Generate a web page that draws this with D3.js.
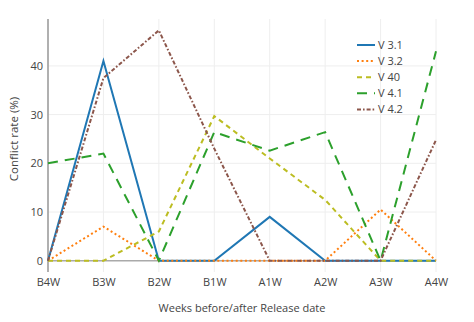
<!DOCTYPE html>
<html><head><meta charset="utf-8">
<script src="https://cdn.jsdelivr.net/npm/d3@7"></script>
<style>body{margin:0;background:#fff;}svg{display:block;font-family:"Open Sans",sans-serif;}</style>
</head><body><svg id="c" width="474" height="322"></svg>
<script>
const categories = ["B4W","B3W","B2W","B1W","A1W","A2W","A3W","A4W"];
const seriesNames = ["V 3.1","V 3.2","V 40","V 4.1","V 4.2"];
const v31 = [0, 41, 0, 0, 9, 0, 0, 0];
const v32 = [0, 7, 0, 0, 0, 0, 10.5, 0];
const v40 = [0, 0, 6, 29.7, 21, 12.5, 0, 0];
const v41 = [20, 22, 0, 26.4, 22.6, 26.4, 0, 43];
const v42 = [0, 37.5, 47.3, 23, 0, 0, 0, 24.8];
const yTicks = [0, 10, 20, 30, 40];

const colors = ["#1f77b4","#ff7f0e","#bcbd22","#2ca02c","#8c564b"];
const dashes = [null, "2,2.6", "5,4", "10,7", "4,2,1.6,2"];
const values = [v31, v32, v40, v41, v42];

const svg = d3.select("#c");
const L = 48, R = 436, T = 19, B = 272;
const x = d3.scalePoint().domain(categories).range([L, R]);
const y = d3.scaleLinear().domain([-2.32, 49.63]).range([B, T]);

// grid
svg.append("g").selectAll("line").data(categories).join("line")
  .attr("x1", d => x(d)).attr("x2", d => x(d)).attr("y1", T).attr("y2", B)
  .attr("stroke", "#eee").attr("stroke-width", 1);
svg.append("g").selectAll("line").data(yTicks.filter(t => t !== 0)).join("line")
  .attr("x1", L).attr("x2", R).attr("y1", d => y(d)).attr("y2", d => y(d))
  .attr("stroke", "#eee").attr("stroke-width", 1);
// zero line
svg.append("line").attr("x1", L).attr("x2", R).attr("y1", y(0)).attr("y2", y(0))
  .attr("stroke", "#aaa").attr("stroke-width", 1.5);

// y axis
const yAxis = d3.axisLeft(y).tickValues(yTicks).tickSize(0).tickPadding(5);
const ga = svg.append("g").attr("transform", `translate(${L},0)`).call(yAxis);
ga.select(".domain").remove();
ga.selectAll("text").attr("fill", "#444").style("font-size", "11px").style("font-family", "'Open Sans',sans-serif");
svg.append("line").attr("x1", L).attr("x2", L).attr("y1", T).attr("y2", B)
  .attr("stroke", "#999").attr("stroke-width", 1.5);

// x axis
const xAxis = d3.axisBottom(x).tickSize(0).tickPadding(6);
const gx = svg.append("g").attr("transform", `translate(0,${B})`).call(xAxis);
gx.select(".domain").remove();
gx.selectAll("text").attr("fill", "#444").style("font-size", "11px").style("font-family", "'Open Sans',sans-serif");

// titles
svg.append("text").attr("x", 242).attr("y", 312).attr("text-anchor", "middle")
  .attr("fill", "#444").style("font-size", "11px").text("Weeks before/after Release date");
svg.append("text").attr("transform", "translate(18,139) rotate(-90)").attr("text-anchor", "middle")
  .attr("fill", "#444").style("font-size", "11.5px").text("Conflict rate (%)");

// lines
const line = d3.line().x((d, i) => x(categories[i])).y(d => y(d));
values.forEach((vals, k) => {
  svg.append("path").datum(vals).attr("d", line)
    .attr("fill", "none").attr("stroke", colors[k]).attr("stroke-width", 2)
    .attr("stroke-dasharray", dashes[k]).attr("stroke-linejoin", "miter");
});

// legend
const lg = svg.append("g");
seriesNames.forEach((n, k) => {
  const cy = 45 + k * 16.1;
  lg.append("line").attr("x1", 357).attr("x2", 375).attr("y1", cy).attr("y2", cy)
    .attr("stroke", colors[k]).attr("stroke-width", 2).attr("stroke-dasharray", dashes[k]);
  lg.append("text").attr("x", 378).attr("y", cy + 4).attr("fill", "#444")
    .style("font-size", "11px").text(n);
});
</script></body></html>
